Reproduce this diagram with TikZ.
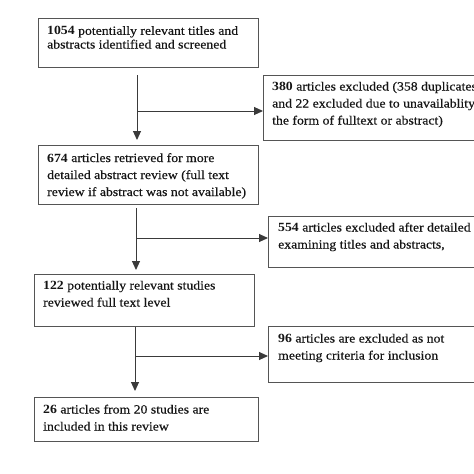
\documentclass[tikz,border=0pt]{standalone}
\usepackage{fontspec}
\setmainfont{Liberation Serif}[FakeStretch=1.1, UprightFeatures={FakeBold=0.35}]
\usetikzlibrary{arrows.meta}
\definecolor{linec}{HTML}{3A3A3A}
\definecolor{boxc}{HTML}{555555}
\definecolor{txtc}{HTML}{151515}
\tikzset{
  box/.style={draw=boxc, line width=1.2pt, rectangle, inner sep=0pt, anchor=north west},
  txt/.style={anchor=base west, align=left, inner sep=0pt, text=txtc, font=\fontsize{12.5}{17}\selectfont},
  flow/.style={draw=linec, line width=1pt},
  arr/.style={flow, -{Triangle[length=9pt,width=8pt]}}
}
\begin{document}
\begin{tikzpicture}[x=1pt,y=-1pt]
\useasboundingbox (0,0) rectangle (474,474);
\fill[white] (0,0) rectangle (474,474);
\clip (0,0) rectangle (474,474);
% boxes
\node[box, minimum width=220pt, minimum height=49pt] (b1) at (38,18) {};
\node[box, minimum width=230pt, minimum height=65pt] (b2) at (263,75) {};
\node[box, minimum width=220pt, minimum height=59pt] (b3) at (38,145) {};
\node[box, minimum width=230pt, minimum height=51pt] (b4) at (268,216) {};
\node[box, minimum width=220pt, minimum height=52pt] (b5) at (34,274) {};
\node[box, minimum width=230pt, minimum height=56pt] (b6) at (268,326) {};
\node[box, minimum width=224pt, minimum height=44pt] (b7) at (34,397) {};
% texts (anchored at the baseline of the last line)
\node[txt, font=\fontsize{12.5}{13.7}\selectfont] (t1) at (47,48.5) {\textbf{1054} potentially relevant titles and\\abstracts identified and screened};
\node[txt] (t2) at (272,124.5) {\textbf{380} articles excluded (358 duplicates\\and 22 excluded due to unavailablity\\the form of fulltext or abstract)};
\node[txt] (t3) at (47,196) {\textbf{674} articles retrieved for more\\detailed abstract review (full text\\review if abstract was not available)};
\node[txt] (t4) at (278,248.5) {\textbf{554} articles excluded after detailed\\examining titles and abstracts,};
\node[txt] (t5) at (43,306.5) {\textbf{122} potentially relevant studies\\reviewed full text level};
\node[txt] (t6) at (278,359.5) {\textbf{96} articles are excluded as not\\meeting criteria for inclusion};
\node[txt] (t7) at (43,430.5) {\textbf{26} articles from 20 studies are\\included in this review};
% connectors
\coordinate (v1) at (137,0);
\coordinate (v2) at (136,0);
\coordinate (v3) at (135,0);
\coordinate (j1) at (137,111);
\coordinate (j2) at (136,238);
\coordinate (j3) at (135,356);
\draw[arr, shorten <=7pt, shorten >=5pt] (b1.south -| v1) -- (b3.north -| v1);
\draw[arr] (j1) -- (j1 -| b2.west);
\draw[arr, shorten <=3pt, shorten >=4pt] (b3.south -| v2) -- (b5.north -| v2);
\draw[arr] (j2) -- (j2 -| b4.west);
\draw[arr, shorten >=6pt] (b5.south -| v3) -- (b7.north -| v3);
\draw[arr] (j3) -- (j3 -| b6.west);
\end{tikzpicture}
\end{document}
